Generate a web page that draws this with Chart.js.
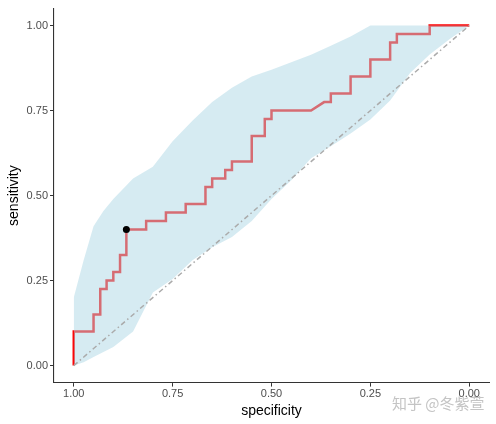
<!DOCTYPE html>
<html>
<head>
<meta charset="utf-8">
<script src="https://cdn.jsdelivr.net/npm/chart.js@4"></script>
<style>
  body { margin: 0; background: #fff; }
  #wrap { width: 496px; height: 424px; }
</style>
</head>
<body>
<div id="wrap"><canvas id="rocChart" width="496" height="424"></canvas></div>
<script>
// ROC curve (specificity / sensitivity pairs, staircase corners)
const rocSpec = [1, 1, 0.95, 0.95, 0.933, 0.933, 0.917, 0.917, 0.9, 0.9, 0.883, 0.883, 0.867, 0.867,
  0.817, 0.817, 0.767, 0.767, 0.717, 0.717, 0.667, 0.667, 0.65, 0.65, 0.617, 0.617, 0.6, 0.6,
  0.55, 0.55, 0.517, 0.517, 0.5, 0.5, 0.4, 0.367, 0.35, 0.35, 0.3, 0.3, 0.25, 0.25, 0.2, 0.2,
  0.183, 0.183, 0.1, 0.1, 0];
const rocSens = [0, 0.1, 0.1, 0.15, 0.15, 0.225, 0.225, 0.25, 0.25, 0.275, 0.275, 0.325, 0.325, 0.4,
  0.4, 0.425, 0.425, 0.45, 0.45, 0.475, 0.475, 0.525, 0.525, 0.55, 0.55, 0.575, 0.575, 0.6,
  0.6, 0.675, 0.675, 0.725, 0.725, 0.75, 0.75, 0.775, 0.775, 0.8, 0.8, 0.85, 0.85, 0.9, 0.9, 0.95,
  0.95, 0.975, 0.975, 1, 1];

// confidence band of sensitivity
const bandSpec  = [1, 1, 0.975, 0.95, 0.925, 0.9, 0.85, 0.8, 0.75, 0.7, 0.65, 0.6, 0.55, 0.5, 0.45, 0.4, 0.35, 0.3, 0.25, 0.2, 0.15, 0.1, 0.05, 0];
const bandUpper = [0, 0.2, 0.31, 0.41, 0.455, 0.49, 0.55, 0.585, 0.66, 0.72, 0.775, 0.817, 0.85, 0.87, 0.892, 0.914, 0.941, 0.968, 1, 1, 1, 1, 1, 1];
const bandLower = [0, 0, 0.01, 0.025, 0.04, 0.055, 0.1, 0.215, 0.255, 0.31, 0.348, 0.378, 0.425, 0.49, 0.545, 0.61, 0.645, 0.683, 0.724, 0.78, 0.86, 0.915, 0.96, 1];

// best threshold point
const bestSpec = [0.867];
const bestSens = [0.4];

// chance line
const diagSpec = [1, 0];
const diagSens = [0, 1];

const tickValues = [0, 0.25, 0.5, 0.75, 1];

const toPts = (xs, ys) => xs.map((x, i) => ({ x: x, y: ys[i] }));

// watermark text
const watermark = {
  id: 'watermark',
  afterDraw(chart) {
    const ctx = chart.ctx;
    ctx.save();
    ctx.font = '15px "Noto Sans CJK SC", sans-serif';
    ctx.fillStyle = '#c4c4c4';
    ctx.textBaseline = 'middle';
    ctx.fillText('知乎 @冬紫萱', 392, 403);
    ctx.restore();
  }
};

const tickFont = { family: '"Liberation Sans", Arial, sans-serif', size: 11 };
const titleFont = { family: '"Liberation Sans", Arial, sans-serif', size: 14 };

new Chart(document.getElementById('rocChart'), {
  type: 'scatter',
  data: {
    datasets: [
      {
        data: toPts(diagSpec, diagSens),
        showLine: true,
        borderColor: '#ababab',
        borderWidth: 1.5,
        borderDash: [5, 3, 1.5, 3],
        pointRadius: 0,
        order: 0
      },
      {
        data: toPts(bestSpec, bestSens),
        pointRadius: 3.5,
        pointBackgroundColor: '#000',
        pointBorderWidth: 0,
        order: 0
      },
      {
        data: toPts(bandSpec, bandUpper),
        showLine: true,
        borderWidth: 0,
        pointRadius: 0,
        fill: '+1',
        backgroundColor: 'rgba(173, 216, 230, 0.5)',
        order: 1
      },
      {
        data: toPts(bandSpec, bandLower),
        showLine: true,
        borderWidth: 0,
        pointRadius: 0,
        fill: false,
        order: 1
      },
      {
        data: toPts(rocSpec, rocSens),
        showLine: true,
        borderColor: '#ff0000',
        borderWidth: 2.5,
        pointRadius: 0,
        order: 2
      }
    ]
  },
  options: {
    responsive: false,
    animation: false,
    layout: { padding: { top: 6, right: 7, left: 0, bottom: 0 } },
    plugins: {
      legend: { display: false },
      tooltip: { enabled: false }
    },
    scales: {
      x: {
        type: 'linear',
        reverse: true,
        min: -0.05,
        max: 1.05,
        afterFit: scale => { scale.height = 41.4; },
        afterBuildTicks: scale => { scale.ticks = tickValues.map(v => ({ value: v })); },
        ticks: {
          color: '#4d4d4d',
          font: tickFont,
          padding: 1,
          maxRotation: 0,
          callback: v => v.toFixed(2)
        },
        grid: { drawOnChartArea: false, drawTicks: true, tickLength: 4, color: '#333' },
        border: { display: true, color: '#333', width: 1.1 },
        title: { display: true, text: 'specificity', color: '#000', font: titleFont, padding: { top: 0, bottom: 4 } }
      },
      y: {
        type: 'linear',
        min: -0.05,
        max: 1.05,
        afterFit: scale => { scale.width = 54; },
        afterBuildTicks: scale => { scale.ticks = tickValues.map(v => ({ value: v })); },
        ticks: {
          color: '#4d4d4d',
          font: tickFont,
          padding: 2,
          callback: v => v.toFixed(2)
        },
        grid: { drawOnChartArea: false, drawTicks: true, tickLength: 4, color: '#333' },
        border: { display: true, color: '#333', width: 1.1 },
        title: { display: true, text: 'sensitivity', color: '#000', font: titleFont, padding: { top: 6, bottom: 0 } }
      }
    }
  },
  plugins: [watermark]
});
</script>
</body>
</html>
